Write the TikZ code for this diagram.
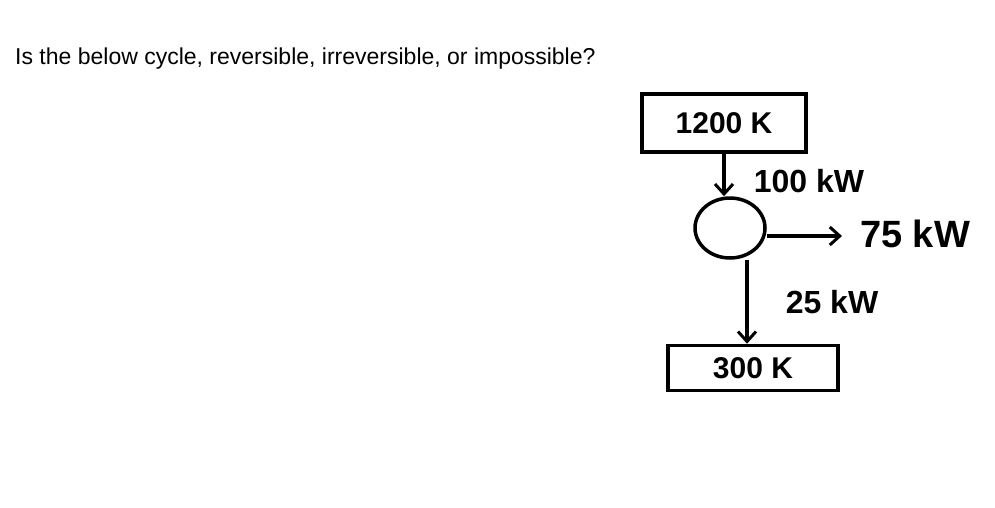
\documentclass[tikz,border=0pt]{standalone}
\usepackage{fontspec}
\setmainfont{Liberation Sans}
\usetikzlibrary{arrows.meta,positioning,shapes.geometric}
\tikzstyle{reservoir}=[draw,line width=3.5pt,inner sep=0pt,font=\bfseries\fontsize{30}{34}\selectfont]
\tikzstyle{flow}=[line width=3.5pt,-{Straight Barb[length=10pt,width=18pt,line width=3pt]}]
\tikzstyle{rate}=[inner sep=0pt,font=\bfseries\fontsize{32}{36}\selectfont]

\begin{document}
\begin{tikzpicture}[x=1pt,y=-1pt]
\useasboundingbox[fill=white] (0,0) rectangle (995,507);
\node [anchor=base west,inner sep=0pt,font=\fontsize{23}{27}\selectfont] (question) at (15,64)
  {Is the below cycle, reversible, irreversible, or impossible?};
% reservoirs and engine
\node [reservoir,minimum width=164pt,minimum height=58pt] (hot) at (724,123) {1200 K};
\node [draw,ellipse,line width=3.5pt,minimum width=70pt,minimum height=60pt] (engine) at (730,228) {};
\node [reservoir,minimum width=170pt,minimum height=45pt] (cold) at (753,368) {300 K};
\coordinate (work) at (842,236);
% heat and work flows
\draw [flow] (hot.south -| 724,0) -- (engine.north -| 724,0);
\draw [flow] (engine.east |- work) -- (work);
\draw [flow] (engine.south -| 747,0) -- (cold.north -| 747,0);
\node [rate] (qin) at (809,181) {100 kW};
\node [rate,font=\bfseries\fontsize{38}{42}\selectfont] (wout) at (915,234) {75 kW};
\node [rate] (qout) at (832,302) {25 kW};
\end{tikzpicture}
\end{document}
